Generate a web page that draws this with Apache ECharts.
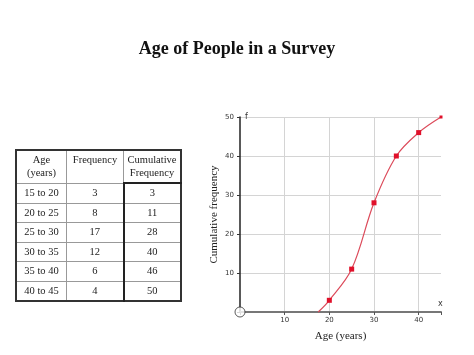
<!DOCTYPE html>
<html>
<head>
<meta charset="utf-8">
<script src="https://cdn.jsdelivr.net/npm/echarts@6/dist/echarts.min.js"></script>
<style>
  html, body { margin: 0; padding: 0; background: #fff; }
  #wrap { position: relative; width: 474px; height: 355px; }
  #chart { position: absolute; left: 0; top: 0; width: 474px; height: 355px; }
  #tbl { position: absolute; left: 15px; top: 149px; width: 167px;
    border-collapse: collapse; border: 2px solid #333;
    font-family: "Liberation Serif", "Times New Roman", serif; font-size: 10.5px; color: #222; }
  #tbl td, #tbl th { border: 1px solid #999; text-align: center; padding: 0; font-weight: normal; }
  #tbl th { height: 29px; vertical-align: top; padding-top: 2px; line-height: 13px; }
  #tbl td { height: 18.5px; line-height: 12px; }
  #tbl th.cum { border-bottom: 2px solid #222; }
  #tbl td.cum { border-left: 2px solid #222; }
</style>
</head>
<body>
<div id="wrap">
  <div id="chart"></div>
  <table id="tbl"></table>
</div>
<script>
// 年龄分组与频数(表格),累计频数(曲线)
const ageGroups = ['15 to 20', '20 to 25', '25 to 30', '30 to 35', '35 to 40', '40 to 45']
const frequency = [3, 8, 17, 12, 6, 4]
const cumulative = [3, 11, 28, 40, 46, 50]
// 曲线:各组上限 + 起点(曲线在约 17.5 岁处与横轴相交)
const upperBounds = [20, 25, 30, 35, 40, 45]
const curveStart = [17.5, 0]
const xTicks = [10, 20, 30, 40]
const yTicks = [10, 20, 30, 40, 50]

// 表格
const tbl = document.getElementById('tbl')
let html = '<tr><th style="width:49px">Age<br>(years)</th><th style="width:56px">Frequency</th>' +
  '<th class="cum">Cumulative<br>Frequency</th></tr>'
ageGroups.forEach((g, i) => {
  html += `<tr><td>${g}</td><td>${frequency[i]}</td><td class="cum">${cumulative[i]}</td></tr>`
})
tbl.innerHTML = html

const curve = [curveStart].concat(upperBounds.map((x, i) => [x, cumulative[i]]))

const chart = echarts.init(document.getElementById('chart'))
const labelStyle = { fontFamily: 'DejaVu Sans', fontSize: 7, color: '#333' }
chart.setOption({
  animation: false,
  title: {
    text: 'Age of People in a Survey', left: 'center', top: 35,
    textStyle: { fontFamily: 'Liberation Serif', fontWeight: 'bold', fontSize: 18, color: '#111' },
  },
  grid: { left: 240, right: 33, top: 117, bottom: 43 },
  xAxis: {
    type: 'value', min: 0, max: 45, interval: 10,
    name: 'Age (years)', nameLocation: 'middle', nameGap: 19,
    nameTextStyle: { fontFamily: 'Liberation Serif', fontSize: 11, color: '#222' },
    axisLine: { lineStyle: { color: '#777', width: 2 } },
    axisTick: { show: true, length: 3, lineStyle: { color: '#555' } },
    axisLabel: { ...labelStyle, margin: 5, formatter: (v) => (xTicks.includes(v) ? String(v) : '') },
    splitLine: { show: true, showMinLine: false, showMaxLine: false, lineStyle: { color: '#d4d4d4' } },
  },
  yAxis: {
    type: 'value', min: 0, max: 50, interval: 10,
    name: 'Cumulative frequency', nameLocation: 'middle', nameGap: 20,
    nameTextStyle: { fontFamily: 'Liberation Serif', fontSize: 11, color: '#222' },
    axisLine: { show: true, lineStyle: { color: '#222', width: 1.5 } },
    axisTick: { show: true, length: 3, lineStyle: { color: '#333' } },
    axisLabel: { ...labelStyle, margin: 6, formatter: (v) => (yTicks.includes(v) ? String(v) : '') },
    splitLine: { show: true, showMinLine: false, lineStyle: { color: '#d4d4d4' } },
  },
  series: [
    {
      type: 'line', data: curve, smooth: 0.35,
      lineStyle: { color: '#dc4a5a', width: 1.2 },
      symbol: 'rect',
      symbolSize: (v, p) => (p.dataIndex === 0 ? 0 : p.dataIndex === curve.length - 1 ? 3 : 5),
      itemStyle: { color: '#e0102a' },
      clip: false,
    },
    {
      // 原点小圆
      type: 'scatter', data: [[0, 0]], symbol: 'circle', symbolSize: 10, clip: false,
      itemStyle: { color: '#fff', borderColor: '#333', borderWidth: 1 }, z: 5,
    },
  ],
})

// 轴端字母 f 与 x
const pTop = chart.convertToPixel({ gridIndex: 0 }, [0, 50])
const pEnd = chart.convertToPixel({ gridIndex: 0 }, [45, 0])
chart.setOption({
  graphic: [
    { type: 'text', x: pTop[0] + 5, y: pTop[1] - 4,
      style: { text: 'f', fontFamily: 'DejaVu Sans', fontSize: 8, fill: '#333' } },
    { type: 'text', x: pEnd[0] - 3, y: pEnd[1] - 12,
      style: { text: 'x', fontFamily: 'DejaVu Sans', fontSize: 8, fill: '#333' } },
  ],
})
</script>
</body>
</html>
